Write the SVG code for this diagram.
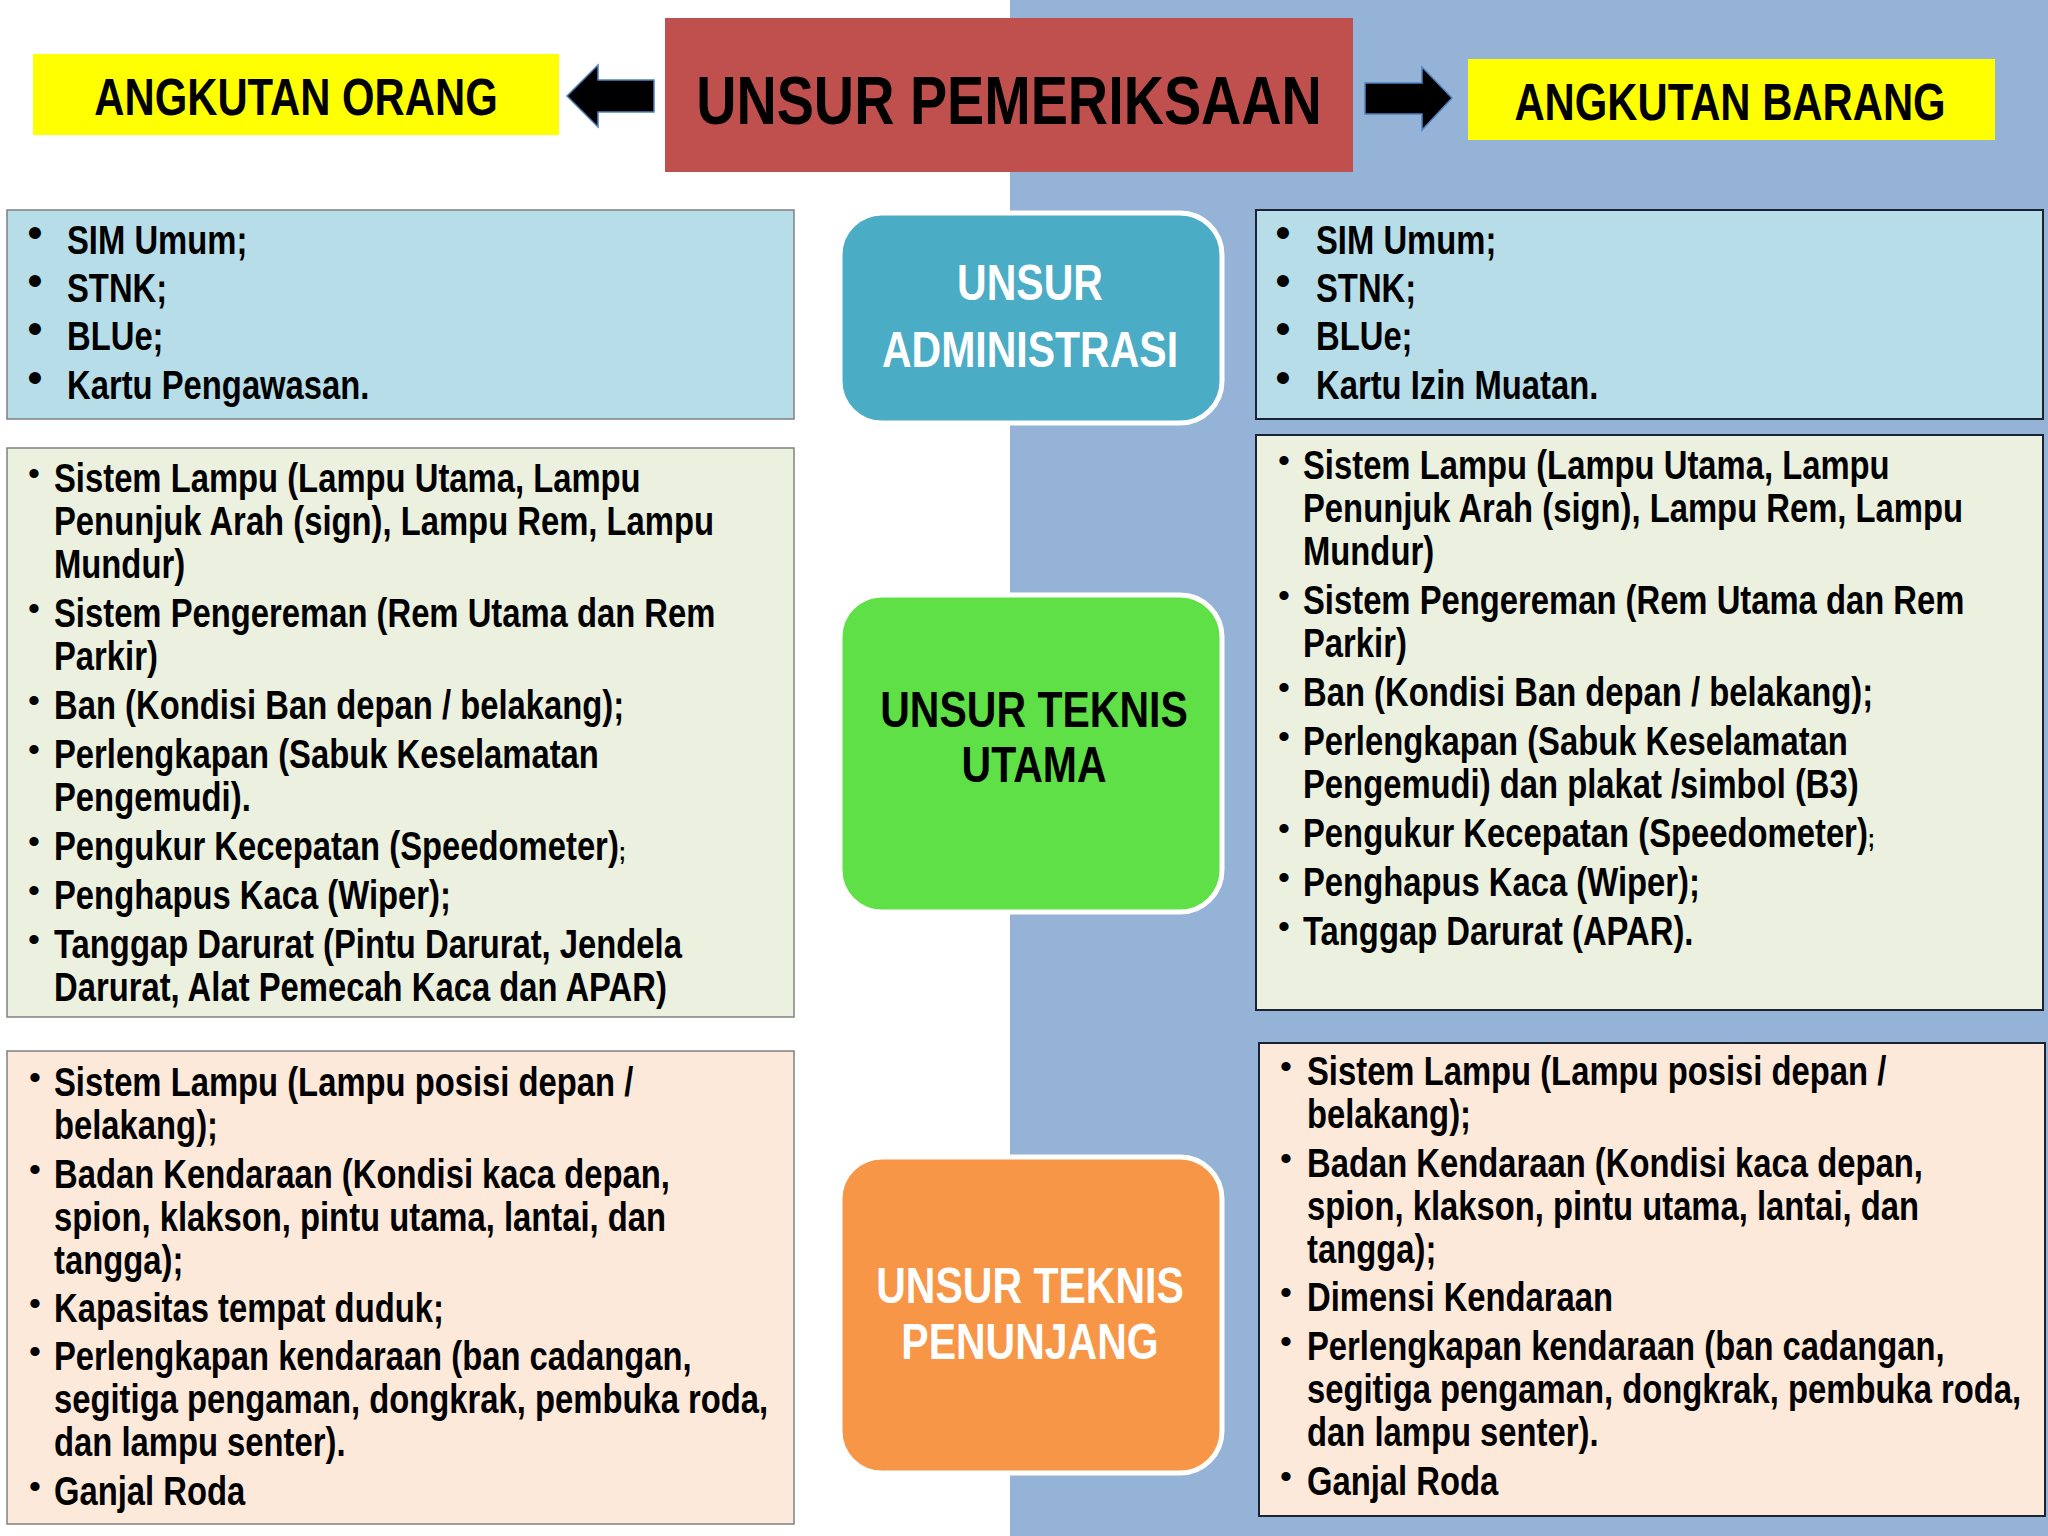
<svg xmlns="http://www.w3.org/2000/svg" width="2048" height="1536" viewBox="0 0 2048 1536">
<style>
.t{font-family:'Liberation Sans',Arial,sans-serif;font-weight:bold;font-size:40px;fill:#000}
.h{font-family:'Liberation Sans',Arial,sans-serif;font-weight:bold;fill:#000;text-anchor:middle}
.w{fill:#fff}
.bul{font-family:'Liberation Sans',Arial,sans-serif;font-size:44px;fill:#000;text-anchor:middle}
.bs{font-family:'Liberation Sans',Arial,sans-serif;font-size:34px;fill:#000;text-anchor:middle}
.boxL{stroke:#808080;stroke-width:1.5}
.boxR{stroke:#1b2333;stroke-width:2}
.adm{fill:#b7dee8}
.tek{fill:#ebf1de}
.pen{fill:#fde9d9}
.cen{stroke:#fff;stroke-width:5}
.arrow{fill:#000;stroke:#4f81bd;stroke-width:1.5;stroke-linejoin:miter}
.semi{font-size:26px}
</style>
<rect x="0" y="0" width="2048" height="1536" fill="#fff"/>
<rect x="1010" y="0" width="1038" height="1536" fill="#95b3d7"/>

<g id="unsur-pemeriksaan">
<rect x="665" y="18" width="688" height="154" fill="#c0504d"/>
<g transform="translate(1009,0) scale(0.82,1)"><text class="h" x="0" y="124" font-size="68">UNSUR PEMERIKSAAN</text></g>
</g>

<g id="angkutan-orang">
<rect x="33" y="54" width="526" height="81" fill="#ffff00"/>
<g transform="translate(296,0) scale(0.82,1)"><text class="h" x="0" y="115" font-size="51">ANGKUTAN ORANG</text></g>
</g>

<g id="angkutan-barang">
<rect x="1468" y="59" width="527" height="81" fill="#ffff00"/>
<g transform="translate(1730,0) scale(0.82,1)"><text class="h" x="0" y="120" font-size="51">ANGKUTAN BARANG</text></g>
</g>

<g id="connectors">
<polygon class="arrow" points="654,80 598,80 598,65 567,96 598,127 598,112 654,112"/>
<polygon class="arrow" points="1365,83 1422,83 1422,67 1452,98 1422,130 1422,114 1365,114"/>
</g>

<g id="unsur-administrasi">
<rect class="cen" x="840" y="213" width="382" height="210" rx="42" fill="#4bacc6"/>
<g transform="translate(1030,0) scale(0.82,1)">
<text class="h w" x="0" y="300" font-size="50">UNSUR</text>
<text class="h w" x="0" y="367" font-size="50">ADMINISTRASI</text>
</g>
</g>

<g id="unsur-teknis-utama">
<rect class="cen" x="840" y="595" width="382" height="317" rx="42" fill="#5fe047"/>
<g transform="translate(1034,0) scale(0.82,1)">
<text class="h" x="0" y="727" font-size="50">UNSUR TEKNIS</text>
<text class="h" x="0" y="782" font-size="50">UTAMA</text>
</g>
</g>

<g id="unsur-teknis-penunjang">
<rect class="cen" x="840" y="1157" width="382" height="316" rx="42" fill="#f79646"/>
<g transform="translate(1030,0) scale(0.82,1)">
<text class="h w" x="0" y="1303" font-size="50">UNSUR TEKNIS</text>
<text class="h w" x="0" y="1359" font-size="50">PENUNJANG</text>
</g>
</g>

<g id="administrasi-orang">
<rect class="adm boxL" x="7" y="210" width="787" height="209"/>
<text class="bul" x="35" y="248">•</text>
<text class="bul" x="35" y="296">•</text>
<text class="bul" x="35" y="344">•</text>
<text class="bul" x="35" y="393">•</text>
<g transform="translate(67,0) scale(0.82,1)">
<text class="t" x="0" y="254">SIM Umum;</text>
<text class="t" x="0" y="302">STNK;</text>
<text class="t" x="0" y="350">BLUe;</text>
<text class="t" x="0" y="399">Kartu Pengawasan.</text>
</g>
</g>

<g id="administrasi-barang">
<rect class="adm boxR" x="1256" y="210" width="787" height="209"/>
<text class="bul" x="1283" y="248">•</text>
<text class="bul" x="1283" y="296">•</text>
<text class="bul" x="1283" y="344">•</text>
<text class="bul" x="1283" y="393">•</text>
<g transform="translate(1316,0) scale(0.82,1)">
<text class="t" x="0" y="254">SIM Umum;</text>
<text class="t" x="0" y="302">STNK;</text>
<text class="t" x="0" y="350">BLUe;</text>
<text class="t" x="0" y="399">Kartu Izin Muatan.</text>
</g>
</g>

<g id="teknis-utama-orang">
<rect class="tek boxL" x="7" y="448" width="787" height="569"/>
<text class="bs" x="34" y="485">•</text>
<text class="bs" x="34" y="620">•</text>
<text class="bs" x="34" y="712">•</text>
<text class="bs" x="34" y="761">•</text>
<text class="bs" x="34" y="853">•</text>
<text class="bs" x="34" y="902">•</text>
<text class="bs" x="34" y="951">•</text>
<g transform="translate(54,0) scale(0.82,1)">
<text class="t" x="0" y="492">Sistem Lampu (Lampu Utama, Lampu</text>
<text class="t" x="0" y="535">Penunjuk Arah (sign), Lampu Rem, Lampu</text>
<text class="t" x="0" y="578">Mundur)</text>
<text class="t" x="0" y="627">Sistem Pengereman (Rem Utama dan Rem</text>
<text class="t" x="0" y="670">Parkir)</text>
<text class="t" x="0" y="719">Ban (Kondisi Ban depan / belakang);</text>
<text class="t" x="0" y="768">Perlengkapan (Sabuk Keselamatan</text>
<text class="t" x="0" y="811">Pengemudi).</text>
<text class="t" x="0" y="860">Pengukur Kecepatan (Speedometer)<tspan class="semi">;</tspan></text>
<text class="t" x="0" y="909">Penghapus Kaca (Wiper);</text>
<text class="t" x="0" y="958">Tanggap Darurat (Pintu Darurat, Jendela</text>
<text class="t" x="0" y="1001">Darurat, Alat Pemecah Kaca dan APAR)</text>
</g>
</g>

<g id="teknis-utama-barang">
<rect class="tek boxR" x="1256" y="435" width="787" height="575"/>
<text class="bs" x="1284" y="472">•</text>
<text class="bs" x="1284" y="607">•</text>
<text class="bs" x="1284" y="699">•</text>
<text class="bs" x="1284" y="748">•</text>
<text class="bs" x="1284" y="840">•</text>
<text class="bs" x="1284" y="889">•</text>
<text class="bs" x="1284" y="938">•</text>
<g transform="translate(1303,0) scale(0.82,1)">
<text class="t" x="0" y="479">Sistem Lampu (Lampu Utama, Lampu</text>
<text class="t" x="0" y="522">Penunjuk Arah (sign), Lampu Rem, Lampu</text>
<text class="t" x="0" y="565">Mundur)</text>
<text class="t" x="0" y="614">Sistem Pengereman (Rem Utama dan Rem</text>
<text class="t" x="0" y="657">Parkir)</text>
<text class="t" x="0" y="706">Ban (Kondisi Ban depan / belakang);</text>
<text class="t" x="0" y="755">Perlengkapan (Sabuk Keselamatan</text>
<text class="t" x="0" y="798">Pengemudi) dan plakat /simbol (B3)</text>
<text class="t" x="0" y="847">Pengukur Kecepatan (Speedometer)<tspan class="semi">;</tspan></text>
<text class="t" x="0" y="896">Penghapus Kaca (Wiper);</text>
<text class="t" x="0" y="945">Tanggap Darurat (APAR).</text>
</g>
</g>

<g id="teknis-penunjang-orang">
<rect class="pen boxL" x="7" y="1051" width="787" height="473"/>
<text class="bs" x="35" y="1089">•</text>
<text class="bs" x="35" y="1181">•</text>
<text class="bs" x="35" y="1315">•</text>
<text class="bs" x="35" y="1363">•</text>
<text class="bs" x="35" y="1498">•</text>
<g transform="translate(54,0) scale(0.82,1)">
<text class="t" x="0" y="1096">Sistem Lampu (Lampu posisi depan /</text>
<text class="t" x="0" y="1139">belakang);</text>
<text class="t" x="0" y="1188">Badan Kendaraan (Kondisi kaca depan,</text>
<text class="t" x="0" y="1231">spion, klakson, pintu utama, lantai, dan</text>
<text class="t" x="0" y="1274">tangga);</text>
<text class="t" x="0" y="1322">Kapasitas tempat duduk;</text>
<text class="t" x="0" y="1370">Perlengkapan kendaraan (ban cadangan,</text>
<text class="t" x="0" y="1413">segitiga pengaman, dongkrak, pembuka roda,</text>
<text class="t" x="0" y="1456">dan lampu senter).</text>
<text class="t" x="0" y="1505">Ganjal Roda</text>
</g>
</g>

<g id="teknis-penunjang-barang">
<rect class="pen boxR" x="1259" y="1043" width="786" height="473"/>
<text class="bs" x="1286" y="1078">•</text>
<text class="bs" x="1286" y="1170">•</text>
<text class="bs" x="1286" y="1304">•</text>
<text class="bs" x="1286" y="1353">•</text>
<text class="bs" x="1286" y="1488">•</text>
<g transform="translate(1307,0) scale(0.82,1)">
<text class="t" x="0" y="1085">Sistem Lampu (Lampu posisi depan /</text>
<text class="t" x="0" y="1128">belakang);</text>
<text class="t" x="0" y="1177">Badan Kendaraan (Kondisi kaca depan,</text>
<text class="t" x="0" y="1220">spion, klakson, pintu utama, lantai, dan</text>
<text class="t" x="0" y="1263">tangga);</text>
<text class="t" x="0" y="1311">Dimensi Kendaraan</text>
<text class="t" x="0" y="1360">Perlengkapan kendaraan (ban cadangan,</text>
<text class="t" x="0" y="1403">segitiga pengaman, dongkrak, pembuka roda,</text>
<text class="t" x="0" y="1446">dan lampu senter).</text>
<text class="t" x="0" y="1495">Ganjal Roda</text>
</g>
</g>
</svg>
